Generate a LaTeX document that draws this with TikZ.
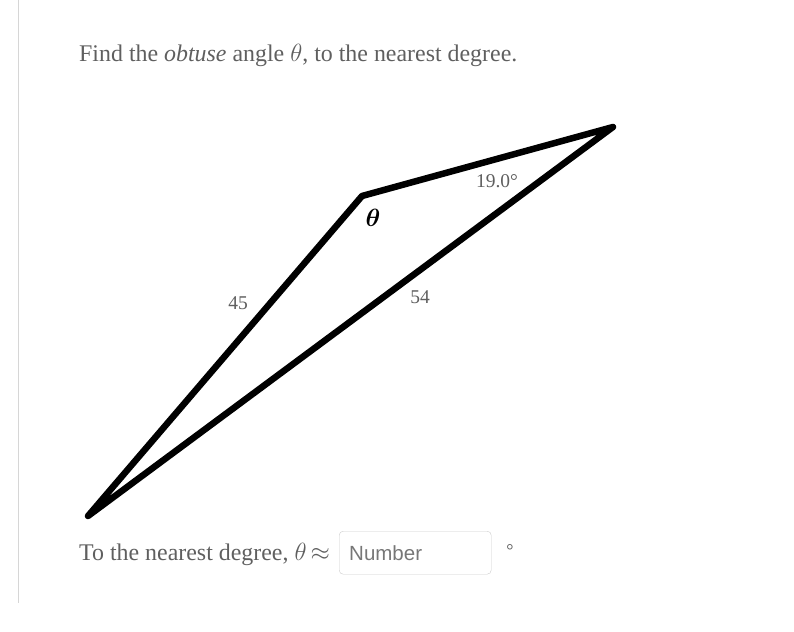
\documentclass[tikz,border=0pt]{standalone}
\usepackage{amsmath}
\usepackage{fontspec}
\setmainfont{Liberation Serif}
\newfontfamily\inputfont{Liberation Sans}
\definecolor{qgray}{HTML}{5F5F5F}
\definecolor{rulegray}{HTML}{D6D6D6}
\definecolor{boxgray}{HTML}{CCCCCC}
\definecolor{placegray}{HTML}{777777}

\begin{document}
\begin{tikzpicture}[x=1pt, y=-1pt,
  triside/.style={line width=6.5pt, line join=round},
  sidelabel/.style={text=qgray, font=\fontsize{19.5}{19.5}\selectfont, inner sep=0pt},
  prose/.style={anchor=base west, text=qgray, font=\fontsize{23.9}{24}\selectfont, inner sep=0pt}]
  \useasboundingbox (0,0) rectangle (794,631);
  \draw [rulegray, line width=1pt] (18,0) -- (18,603);
  \node [prose] (question) at (79,62) {Find the \textit{obtuse} angle $\theta$, to the nearest degree.};

  \coordinate (A) at (88,516);
  \coordinate (B) at (362,196);
  \coordinate (C) at (613,127);
  \draw [triside] (A) -- (B) -- (C) -- cycle;
  \node [sidelabel] (ab) at (238,303) {45};
  \node [sidelabel] (ac) at (420,297) {54};
  \node [sidelabel] (angc) at (497,181) {19.0\textdegree};
  \node (theta) at (373,218) {\fontsize{27}{27}\selectfont$\boldsymbol{\theta}$};

  \node [prose] (ask) at (79,560) {To the nearest degree, $\theta\,{\approx}$};
  \node [draw=boxgray, rounded corners=4pt, minimum width=152pt, minimum height=43pt, anchor=north west] (answer) at (339,531) {};
  \node [anchor=west, text=placegray, font=\inputfont\fontsize{20.5}{20.5}\selectfont, inner sep=0pt] (hint) at ([xshift=10pt]answer.west) {Number};
  \node [text=qgray, inner sep=0pt] (deg) at (510,551) {\fontsize{18}{18}\selectfont\textdegree};
\end{tikzpicture}
\end{document}
